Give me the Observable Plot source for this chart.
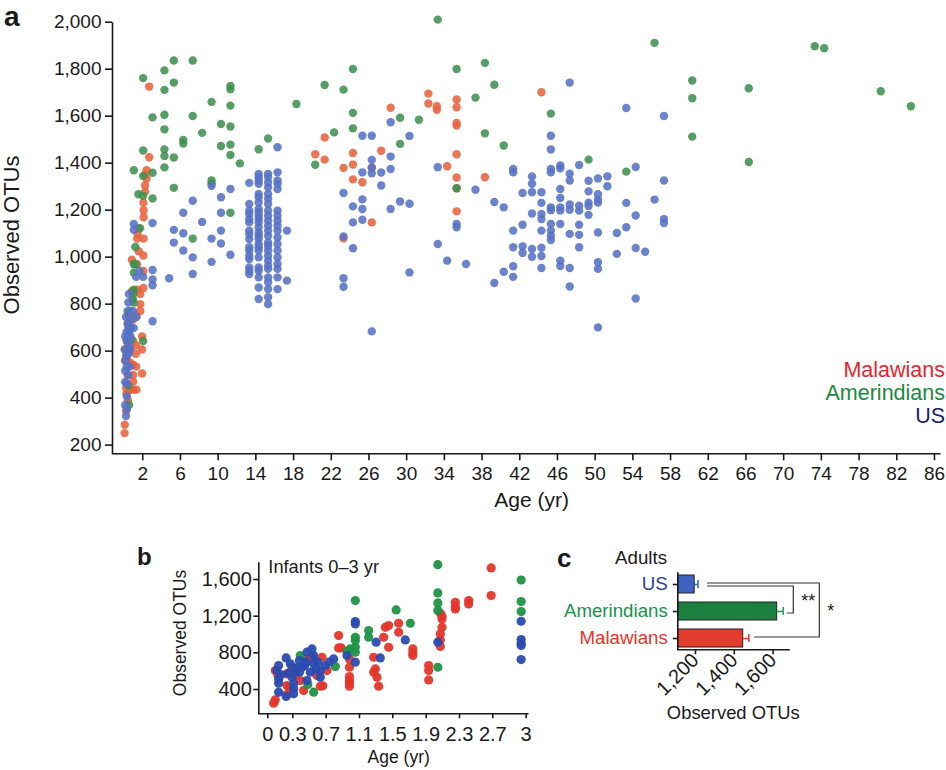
<!DOCTYPE html>
<html>
<head>
<meta charset="utf-8">
<script src="https://cdn.jsdelivr.net/npm/d3@7"></script>
<script src="https://cdn.jsdelivr.net/npm/@observablehq/plot@0.6"></script>
<style>
  body { margin: 0; background: #fff; }
  #fig { position: relative; width: 946px; height: 770px; overflow: hidden; background: #fff;
         font-family: "Liberation Sans", Arial, Helvetica, sans-serif; color: #1a1a1a; }
  #fig > div { position: absolute; }
  #fig svg { display: block; overflow: visible; }
  .txt { line-height: 0.95; white-space: nowrap; }
</style>
</head>
<body>
<div id="fig"></div>
<script>
const FONT = '"Liberation Sans", Arial, Helvetica, sans-serif';

// ---- Infants 0–3 yr: [age (yr), observed OTUs] ----
const malawiInfants = [
  [0.07,251],[0.09,287],[0.09,607],[0.12,560],[0.23,571],[0.23,444],[0.23,345],[0.26,420],
  [0.29,643],[0.33,560],[0.39,498],[0.43,389],[0.47,720],[0.53,752],[0.59,553],[0.63,436],
  [0.66,440],[0.65,752],[0.71,607],[0.85,989],[0.85,854],[0.88,854],[0.98,734],[0.98,643],
  [0.98,542],[0.98,498],[0.98,470],[0.98,436],[1.27,752],[1.27,589],[1.29,625],[1.31,534],
  [1.33,436],[1.39,970],[1.41,1079],[1.45,1098],[1.45,861],[1.57,1123],[1.57,1025],[1.74,843],
  [1.74,800],[1.74,771],[1.93,662],[1.93,607],[1.93,505],[2.07,1232],[2.09,1200],[2.09,1170],
  [2.09,1079],[2.07,1007],[2.07,941],[2.07,869],[2.25,1352],[2.25,1305],[2.25,1279],[2.41,1370],
  [2.41,1334],[2.68,1726],[2.68,1425]
];
const amerindianInfants = [
  [0.39,770],[0.48,454],[0.55,371],[0.81,650],[0.95,820],[0.99,843],[1.05,1370],[1.05,970],
  [1.05,934],[1.05,861],[1.05,807],[1.21,1043],[1.21,970],[1.54,1268],[1.71,1123],[2.04,1762],
  [2.04,1454],[2.04,1345],[2.04,1261],[2.04,643],[3.04,1595],[3.04,1359],[3.04,1250]
];
const usInfants = [
  [0.11,607],[0.13,662],[0.13,516],[0.13,469],[0.13,371],[0.16,560],[0.22,745],[0.22,324],
  [0.25,580],[0.27,680],[0.29,534],[0.31,589],[0.31,462],[0.31,407],[0.31,353],[0.35,640],
  [0.38,716],[0.38,589],[0.41,643],[0.44,660],[0.46,698],[0.47,807],[0.47,498],[0.51,589],
  [0.53,843],[0.55,771],[0.55,680],[0.58,620],[0.60,700],[0.63,607],[0.63,534],[0.69,662],
  [0.74,700],[0.79,734],[0.95,771],[1.05,1141],[1.05,1116],[1.05,698],[1.30,916],[1.35,745],
  [1.65,941],[2.04,916],[3.04,1145],[3.04,945],[3.04,905],[3.04,880],[3.04,727]
];

// ---- Older children and adults: [age (yr), [observed OTUs]] ----
const malawiOlder = [
  [20.3,[1438]],[21.3,[1509,1415]],[23.3,[1380,1080]],[24.3,[1443,1394,1331]],[25.3,[1319]],
  [26.3,[1380,1148]],[27.3,[1453]],[28.3,[1636]],[32.3,[1696,1654]],[33.2,[1642,1627]],
  [34.3,[1387]],[35.3,[1671,1638,1571,1560,1438,1339,1293,1195]],[38.3,[1340]],[44.3,[1702]]
];
const amerindianOlder = [
  [4.3,[1795,1712,1606,1544,1458,1430,1382]],[5.3,[1837,1743,1424,1295]],[6.3,[1499,1484]],
  [7.3,[1837,1601,1079]],[8.3,[1529]],[9.3,[1661,1326,1314]],[10.3,[1567,1473]],
  [11.3,[1729,1715,1645,1556,1479,1435,1189]],[12.3,[1399]],[14.3,[1459]],[15.3,[1505]],
  [18.3,[1652]],[20.3,[1393]],[21.3,[1733]],[22.3,[1531]],[23.3,[1713]],[24.3,[1801,1614,1548]],
  [29.3,[1593,1482]],[31.3,[1585]],[33.3,[2011]],[35.3,[1801,1293]],[37.3,[1679]],
  [38.3,[1827,1527]],[39.3,[1734]],[40.3,[1475]],[45.3,[1611]],[49.3,[1415]],[53.3,[1364]],
  [56.3,[1912]],[60.3,[1752,1676,1513]],[66.3,[1719,1405]],[73.3,[1898]],[74.3,[1889]],
  [80.3,[1706]],[83.5,[1642]]
];
const usOlder = [
  [4.8,[910]],[5.3,[1116,1062]],[6.3,[1189,1102,1028]],[7.3,[1240,999,928]],[8.3,[1150]],
  [9.3,[1304,1079,980]],[10.3,[1255,1189,1113,1058]],[11.3,[1290,1010]],
  [13.3,[1316,1226,1198,1184,1162,1148,1113,1098,1077,1042,1028,1006,992,956,942,928]],
  [14.3,[1354,1340,1326,1312,1269,1255,1233,1205,1191,1176,1162,1148,1127,1105,1091,1077,1056,1042,1028,999,956,942,914,871,822]],
  [15.3,[1354,1340,1318,1297,1269,1248,1226,1198,1176,1155,1134,1113,1091,1063,1049,1028,1006,985,964,950,914,893,864,829,800]],
  [16.3,[1468,1361,1326,1312,1290,1198,1176,1155,1134,1113,1084,1056,1028,999,971,950,914,864]],
  [17.3,[1113,900]],[23.3,[1273,1088,910,874]],[24.3,[1216,1148,1038]],
  [25.3,[1517,1361,1246,1205,1159]],[26.3,[1517,1414,1382,1357,684]],[27.3,[1360,1305]],
  [28.3,[1574,1428,1375,1205]],[29.3,[1237]],[30.3,[1516,1227,935]],[33.3,[1383,1056]],
  [34.3,[985]],[35.3,[1141,1127]],[36.3,[971]],[37.3,[1287]],[39.3,[1235,890]],[40.3,[1212,938]],
  [41.3,[1375,1361,1113,1042,961,916]],[42.3,[1273,1138,1046,1018]],
  [43.3,[1343,1312,1276,1186,1035,1002]],[44.3,[1276,1231,1184,1162,1113,1040,1005,954]],
  [45.3,[1517,1458,1375,1361,1212,1200,1141,1113,1091,1073]],
  [46.3,[1390,1378,1290,1252,1212,1198,1141,985,962]],[47.3,[1743,1355,1326,1224,1202,1099,954,875]],
  [48.3,[1392,1219,1198,1138,1095,1042]],[49.3,[1325,1280,1232,1218,1180]],
  [50.3,[1335,1268,1245,1232,1105,978,950,701]],[51.3,[1344,1302]],[52.3,[1103,1014]],
  [53.3,[1635,1231,1127]],[54.3,[1384,1177,1039,824]],[55.3,[1023]],[56.3,[1245]],
  [57.3,[1601,1326,1163,1145]]
];

// ---- Adults (panel c): mean observed OTUs and standard error ----
const adultGroups = ["US", "Amerindians", "Malawians"];
const adultMeans = [1196, 1621, 1446];
const adultErrors = [17, 31, 29];

// ---- Ticks ----
const groups = ["Malawians", "Amerindians", "US"];
const ageTicksA = [2,6,10,14,18,22,26,30,34,38,42,46,50,54,58,62,66,70,74,78,82,86];
const otuTicksA = [200,400,600,800,1000,1200,1400,1600,1800,2000];
const ageTicksB = [0,0.3,0.7,1.1,1.5,1.9,2.3,2.7,3.1];
const ageTickLabelsB = ["0","0.3","0.7","1.1","1.5","1.9","2.3","2.7","3"];
const otuTicksB = [400,800,1200,1600];
const otuTicksC = [1200,1400,1600];

// ---- Colours ----
const dotColorsA = ["#e8623d", "#3f9150", "#5672c5"];
const dotColorsB = ["#e4362b", "#1f9445", "#2a4bb0"];
const legendColors = ["#e5262b", "#1a8a3e", "#1c1f6b"];
const barFill = {US: "#3e63c2", Amerindians: "#1b8040", Malawians: "#e23d2d"};
const errColor = {US: "#3e63c2", Amerindians: "#2ea055", Malawians: "#e23d2d"};
const catColor = {US: "#2e3d96", Amerindians: "#17944a", Malawians: "#e8342b"};
const INK = "#1a1a1a";

// ---- Tidy rows ----
const infantRows = [
  ...malawiInfants.map(([age, otu]) => ({group: "Malawians", age, otu})),
  ...amerindianInfants.map(([age, otu]) => ({group: "Amerindians", age, otu})),
  ...usInfants.map(([age, otu]) => ({group: "US", age, otu}))
];
const olderRows = [["Malawians", malawiOlder], ["Amerindians", amerindianOlder], ["US", usOlder]]
  .flatMap(([group, cols]) => cols.flatMap(([age, otus]) => otus.map(otu => ({group, age, otu}))));
const allRows = groups.flatMap(g => [...infantRows, ...olderRows].filter(d => d.group === g));
const infantsOrdered = groups.flatMap(g => infantRows.filter(d => d.group === g));
const adultRows = adultGroups.map((group, i) => ({group, mean: adultMeans[i], err: adultErrors[i]}));

const fig = document.getElementById("fig");
function put(node, left, top) {
  const d = document.createElement("div");
  d.style.left = left + "px"; d.style.top = top + "px";
  d.appendChild(node); fig.appendChild(d);
}
// text positioned by its visual centre line
function label(text, x, y, {size = 18, weight = 400, color = INK, anchor = "middle", rotate = false} = {}) {
  const d = document.createElement("div");
  d.className = "txt";
  d.textContent = text;
  d.style.left = x + "px"; d.style.top = y + "px";
  d.style.fontSize = size + "px"; d.style.fontWeight = weight; d.style.color = color;
  const tx = anchor === "middle" ? "-50%" : anchor === "end" ? "-100%" : "0";
  d.style.transform = `translate(${tx},-50%)` + (rotate ? " rotate(-90deg)" : "");
  fig.appendChild(d);
}
// left + bottom axis lines drawn from the frame rectangle
const axisFrame = (w, h) => Plot.frame({stroke: INK, strokeWidth: 1.6, strokeDasharray: `0 ${w + h} ${w + h}`});

// ---- Panel a: all ages ----
const A = {w: 946, h: 520, ml: 112, mr: 6, mt: 21.7, mb: 66.7};
const chartA = Plot.plot({
  width: A.w, height: A.h,
  marginLeft: A.ml, marginRight: A.mr, marginTop: A.mt, marginBottom: A.mb,
  style: {fontFamily: FONT, background: "transparent", color: INK, overflow: "visible"},
  x: {domain: [-1.21, 86.64]},
  y: {domain: [163, 2000]},
  color: {domain: groups, range: dotColorsA},
  marks: [
    Plot.axisX({ticks: ageTicksA, tickSize: 7, tickPadding: 6, fontSize: 19, strokeWidth: 1.6, label: null}),
    Plot.axisY({ticks: otuTicksA, tickFormat: d3.format(","), tickSize: 7, tickPadding: 4, fontSize: 19, strokeWidth: 1.6, label: null}),
    axisFrame(A.w - A.ml - A.mr, A.h - A.mt - A.mb),
    Plot.dot(allRows, {x: "age", y: "otu", fill: "group", r: 4.2, fillOpacity: 0.88})
  ]
});
put(chartA, 0, 0);

// ---- Panel b: infants ----
const B = {w: 400, h: 230, ml: 118.3, mr: 12, mt: 21.7, mb: 56.7};
const chartB = Plot.plot({
  width: B.w, height: B.h,
  marginLeft: B.ml, marginRight: B.mr, marginTop: B.mt, marginBottom: B.mb,
  style: {fontFamily: FONT, background: "transparent", color: INK, overflow: "visible"},
  x: {domain: [-0.108, 3.128]},
  y: {domain: [135, 1789]},
  color: {domain: groups, range: dotColorsB},
  marks: [
    Plot.axisX({ticks: ageTicksB, tickFormat: d => ageTickLabelsB[ageTicksB.indexOf(d)], tickSize: 5, tickPadding: 8, fontSize: 20, strokeWidth: 1.6, label: null}),
    Plot.axisY({ticks: otuTicksB, tickFormat: d3.format(","), tickSize: 5, tickPadding: 2, fontSize: 20, strokeWidth: 1.6, label: null}),
    axisFrame(B.w - B.ml - B.mr, B.h - B.mt - B.mb),
    Plot.dot(infantsOrdered, {x: "age", y: "otu", fill: "group", r: 4.6, fillOpacity: 0.95})
  ]
});
put(chartB, 140, 540);

// ---- Panel c: adults ----
const C = {w: 340, h: 230, ml: 137.3, mr: 90.7, mt: 31.7, mb: 120.7};
const xDomainC = [1109, 1686];
const tipOf = g => { const r = adultRows.find(d => d.group === g); return r.mean + r.err; };
const innerX = 1704, outerX = 1838, startGap = 49;
const bracketInner = [
  {x: tipOf("US") + startGap, group: "US"}, {x: innerX, group: "US"},
  {x: innerX, group: "Amerindians"}, {x: tipOf("Amerindians") + 21, group: "Amerindians"}
];
const bracketOuter = [
  {x: tipOf("US") + startGap, group: "US"}, {x: outerX, group: "US"},
  {x: outerX, group: "Malawians"}, {x: tipOf("Malawians") + 30, group: "Malawians"}
];
const stars = [
  {x: innerX, group: "US", text: "**", dy: 17},
  {x: outerX, group: "Amerindians", text: "*", dy: 0}
];
const chartC = Plot.plot({
  width: C.w, height: C.h,
  marginLeft: C.ml, marginRight: C.mr, marginTop: C.mt, marginBottom: C.mb,
  style: {fontFamily: FONT, background: "transparent", color: INK, overflow: "visible"},
  x: {domain: xDomainC},
  y: {domain: adultGroups, paddingInner: 0.337, paddingOuter: 0.09},
  marks: [
    Plot.barX(adultRows, {x: "mean", y: "group", fill: d => barFill[d.group], stroke: "#222", strokeWidth: 1, clip: true}),
    Plot.ruleY(adultRows, {y: "group", x1: "mean", x2: d => d.mean + d.err, stroke: d => errColor[d.group], strokeWidth: 1.6}),
    Plot.tickX(adultRows, {x: d => d.mean + d.err, y: "group", stroke: d => errColor[d.group], strokeWidth: 1.6, insetTop: 5, insetBottom: 5}),
    Plot.line(bracketInner, {x: "x", y: "group", stroke: "#333", strokeWidth: 1.2, dy: 1.5}),
    Plot.line(bracketOuter, {x: "x", y: "group", stroke: "#333", strokeWidth: 1.2, dy: -1.5}),
    Plot.text(stars.filter(d => d.dy), {x: "x", y: "group", text: "text", dx: 8, dy: 17, textAnchor: "start", fontSize: 18, fill: INK}),
    Plot.text(stars.filter(d => !d.dy), {x: "x", y: "group", text: "text", dx: 8, textAnchor: "start", fontSize: 18, fill: INK}),
    Plot.text(adultRows, {y: "group", text: "group", frameAnchor: "left", dx: -10, textAnchor: "end", fontSize: 18.7, fill: d => catColor[d.group]}),
    Plot.axisY({tickSize: 4.5, tickFormat: () => "", strokeWidth: 1.6, label: null}),
    Plot.axisX({ticks: otuTicksC, tickFormat: d3.format(","), tickRotate: -45, tickSize: 5, tickPadding: 2, fontSize: 20, strokeWidth: 1.6, label: null}),
    axisFrame(C.w - C.ml - C.mr, C.h - C.mt - C.mb)
  ]
});
put(chartC, 540, 540);

// ---- Titles, axis labels and legend ----
label("a", 4, 17, {size: 28, weight: 700, anchor: "start"});
label("Observed OTUs", 12, 235, {size: 22, rotate: true});
label("Age (yr)", 531.7, 500, {size: 21});
label("Malawians", 945, 370, {size: 21.5, color: legendColors[0], anchor: "end"});
label("Amerindians", 945, 392.5, {size: 21.5, color: legendColors[1], anchor: "end"});
label("US", 945, 415.5, {size: 21.5, color: legendColors[2], anchor: "end"});

label("b", 137, 557, {size: 24, weight: 700, anchor: "start"});
label("Infants 0\u20133 yr", 268.3, 566.7, {size: 18.3, anchor: "start"});
label("Observed OTUs", 180, 633, {size: 17.5, rotate: true});
label("Age (yr)", 398.7, 757, {size: 17.5});

label("c", 557, 558, {size: 26, weight: 700, anchor: "start"});
label("Adults", 667, 558.3, {size: 18.7, anchor: "end"});
label("Observed OTUs", 733.3, 713.3, {size: 18.4});
</script>
</body>
</html>
